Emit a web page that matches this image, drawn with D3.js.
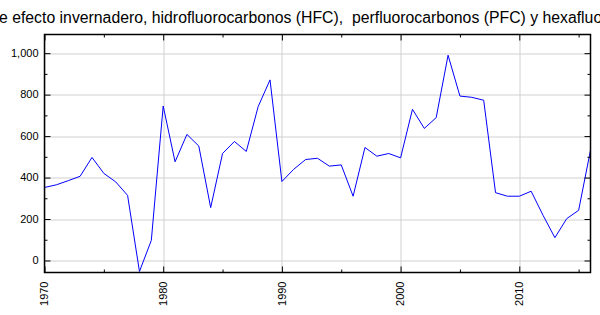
<!DOCTYPE html>
<html>
<head>
<meta charset="utf-8">
<script src="https://cdn.jsdelivr.net/npm/d3@7"></script>
<style>
  body { margin: 0; background: #fff; }
  svg { display: block; font-family: "Liberation Sans", Arial, sans-serif; }
</style>
</head>
<body>
<div id="chart"></div>
<script>
// data
const years = d3.range(1970, 2017);
const values = [
  352, 365, 385, 406, 497, 420, 379, 314, -53, 97,
  745, 476, 608, 552, 255, 516, 574, 526, 742, 871,
  381, 440, 487, 493, 455, 461, 310, 545, 503, 516,
  495, 729, 637, 689, 990, 793, 787, 773, 327, 310,
  310, 334, 218, 110, 202, 242, 532
];
const yTicks = [0, 200, 400, 600, 800, 1000];
const xTicks = [1970, 1980, 1990, 2000, 2010];
const titlePrefix = 'Otras emisiones de gases d';
const titleText = 'Otras emisiones de gases de efecto invernadero, hidrofluorocarbonos (HFC),  perfluorocarbonos (PFC) y hexafluoruro de azufre (SF6) (miles de toneladas métricas de equivalente de CO2)';

const W = 600, H = 315;
const margin = {top: 34.5, right: 9.5, bottom: 42.5, left: 44.5},
  width = W - margin.left - margin.right,
  height = H - margin.top - margin.bottom;

const svg = d3.select('#chart').append('svg')
  .attr('width', W)
  .attr('height', H);

// title, cut off on both sides like the original
const title = svg.append('text')
  .attr('y', 23)
  .style('font-size', '15.8px')
  .style('white-space', 'pre')
  .attr('fill', '#000');
const probe = title.text(titlePrefix).node().getComputedTextLength();
title.text(titleText).attr('x', -probe - 1);

const g = svg.append('g')
  .attr('transform', 'translate(' + margin.left + ',' + margin.top + ')');

const x = d3.scaleLinear().domain([1970, 2016]).range([0, width]);
const y = d3.scaleLinear().domain([-58, 1090]).range([height, 0]);

// grid
g.append('g').selectAll('line').data(yTicks).enter().append('line')
  .attr('x1', 0).attr('x2', width)
  .attr('y1', d => Math.round(y(d)) + 0.5).attr('y2', d => Math.round(y(d)) + 0.5)
  .attr('stroke', '#d0d0d0');
g.append('g').selectAll('line').data(xTicks).enter().append('line')
  .attr('y1', 0).attr('y2', height)
  .attr('x1', d => Math.round(x(d)) + 0.5).attr('x2', d => Math.round(x(d)) + 0.5)
  .attr('stroke', '#d0d0d0');

// line
const line = d3.line()
  .x((d, i) => x(years[i]))
  .y(d => y(d));
g.append('path')
  .datum(values)
  .attr('d', line)
  .attr('fill', 'none')
  .attr('stroke', '#0000ff')
  .attr('stroke-width', 1);

// axes with inward ticks
const minorX = d3.range(1975, 2016, 10);
const minorY = d3.range(100, 1001, 200);

function ticks(axis, vals, len) {
  axis.tickValues(vals).tickSize(len).tickFormat('');
  return axis;
}

const axes = g.append('g').attr('class', 'axes');
axes.append('g').attr('transform', 'translate(0,' + height + ')')
  .call(ticks(d3.axisTop(x), xTicks, 6));
axes.append('g').attr('transform', 'translate(0,' + height + ')')
  .call(ticks(d3.axisTop(x), minorX, 3));
axes.append('g')
  .call(ticks(d3.axisBottom(x), xTicks, 6));
axes.append('g')
  .call(ticks(d3.axisBottom(x), minorX, 3));
axes.append('g')
  .call(ticks(d3.axisRight(y), yTicks, 6));
axes.append('g')
  .call(ticks(d3.axisRight(y), minorY, 3));
axes.append('g').attr('transform', 'translate(' + width + ',0)')
  .call(ticks(d3.axisLeft(y), yTicks, 6));
axes.append('g').attr('transform', 'translate(' + width + ',0)')
  .call(ticks(d3.axisLeft(y), minorY, 3));
axes.selectAll('.domain').remove();
axes.selectAll('line').attr('stroke', '#000');

// frame
g.append('rect')
  .attr('x', 0).attr('y', 0)
  .attr('width', width).attr('height', height)
  .attr('fill', 'none')
  .attr('stroke', '#000')
  .attr('stroke-width', 1.5);

// tick labels
g.append('g').selectAll('text').data(yTicks).enter().append('text')
  .attr('x', -6)
  .attr('y', d => y(d))
  .attr('dy', '0.35em')
  .attr('text-anchor', 'end')
  .style('font-size', '11px')
  .text(d3.format(','));

g.append('g').selectAll('text').data(xTicks).enter().append('text')
  .attr('transform', d => 'translate(' + x(d) + ',' + (height + 9) + ') rotate(-90)')
  .attr('dy', '0.35em')
  .attr('text-anchor', 'end')
  .style('font-size', '11px')
  .text(d => d);
</script>
</body>
</html>
